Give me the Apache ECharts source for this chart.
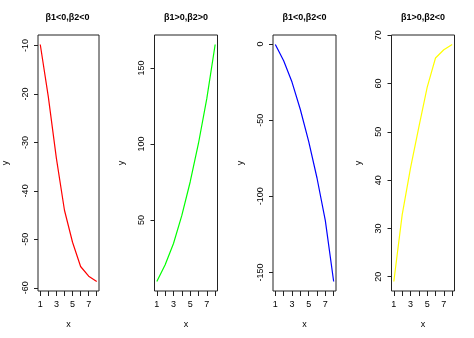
<!DOCTYPE html>
<html>
<head>
<meta charset="utf-8">
<script src="https://cdn.jsdelivr.net/npm/echarts@6/dist/echarts.min.js"></script>
<style>
html,body{margin:0;padding:0;background:#fff;}
#chart{width:474px;height:338px;}
</style>
</head>
<body>
<div id="chart"></div>
<script>
const xValues = [1, 2, 3, 4, 5, 6, 7, 8];
const xTickLabels = [1, 3, 5, 7];
const titles = ['β1<0,β2<0', 'β1>0,β2>0', 'β1<0,β2<0', 'β1>0,β2<0'];
const series1 = [-9.8, -20.6, -33.3, -44.0, -50.6, -55.6, -57.6, -58.7];
const series2 = [9.5, 20.5, 34.5, 53, 75, 100.5, 130, 165.5];
const series3 = [-0.3, -11, -25, -43, -64, -88, -116, -156];
const series4 = [19.0, 32.8, 42.5, 51, 59.2, 65.3, 67, 68.1];
const yTicks1 = [-60, -50, -40, -30, -20, -10];
const yTicks2 = [50, 100, 150];
const yTicks3 = [-150, -100, -50, 0];
const yTicks4 = [20, 30, 40, 50, 60, 70];
const lineColors = ['#ff0000', '#00ff00', '#0000ff', '#ffff00'];

const allSeries = [series1, series2, series3, series4];
const allTicks = [yTicks1, yTicks2, yTicks3, yTicks4];
const FONT = 'Liberation Sans, Arial, Helvetica, sans-serif';

const panelW = 118.5, boxLeft = 36, boxW = 63, boxTop = 35, boxH = 256;

const grids = [], xAxes = [], yAxes = [], series = [], graphics = [];
allSeries.forEach((data, i) => {
  const lo = Math.min(...data), hi = Math.max(...data);
  const pad = (hi - lo) * 0.04;
  grids.push({
    left: boxLeft + panelW * i, top: boxTop, width: boxW, height: boxH,
    show: true, borderColor: '#222', borderWidth: 1, backgroundColor: 'transparent'
  });
  xAxes.push({
    type: 'value', gridIndex: i, min: 0.72, max: 8.28, position: 'bottom',
    name: 'x', nameLocation: 'middle', nameGap: 29,
    nameTextStyle: { fontFamily: FONT, fontSize: 9, color: '#000' },
    axisLine: { show: false, onZero: false },
    splitLine: { show: false },
    axisTick: { show: true, length: 5, customValues: xValues, lineStyle: { color: '#222' } },
    axisLabel: { customValues: xTickLabels, margin: 9, fontFamily: FONT, fontSize: 9, color: '#000' }
  });
  yAxes.push({
    type: 'value', gridIndex: i, min: lo - pad, max: hi + pad, position: 'left',
    name: 'y', nameLocation: 'middle', nameGap: 28, nameRotate: 90,
    nameTextStyle: { fontFamily: FONT, fontSize: 9, color: '#000' },
    axisLine: { show: false, onZero: false },
    splitLine: { show: false },
    axisTick: { show: true, length: 4, customValues: allTicks[i], lineStyle: { color: '#222' } },
    axisLabel: { customValues: allTicks[i], rotate: 90, margin: 8, fontFamily: FONT, fontSize: 9, color: '#000' }
  });
  series.push({
    type: 'line', xAxisIndex: i, yAxisIndex: i,
    data: xValues.map((x, k) => [x, data[k]]),
    showSymbol: false, symbol: 'none', smooth: false,
    lineStyle: { color: lineColors[i], width: 1.2 },
    silent: true, animation: false
  });
  graphics.push({
    type: 'text', x: boxLeft + boxW / 2 + panelW * i, y: 18,
    style: { text: titles[i], fontFamily: FONT, fontSize: 9, fontWeight: 'bold', fill: '#000',
      align: 'center', verticalAlign: 'middle' }
  });
});

const chart = echarts.init(document.getElementById('chart'), null, { renderer: 'canvas' });
chart.setOption({
  backgroundColor: '#fff',
  animation: false,
  grid: grids,
  xAxis: xAxes,
  yAxis: yAxes,
  series: series,
  graphic: graphics
});
</script>
</body>
</html>
